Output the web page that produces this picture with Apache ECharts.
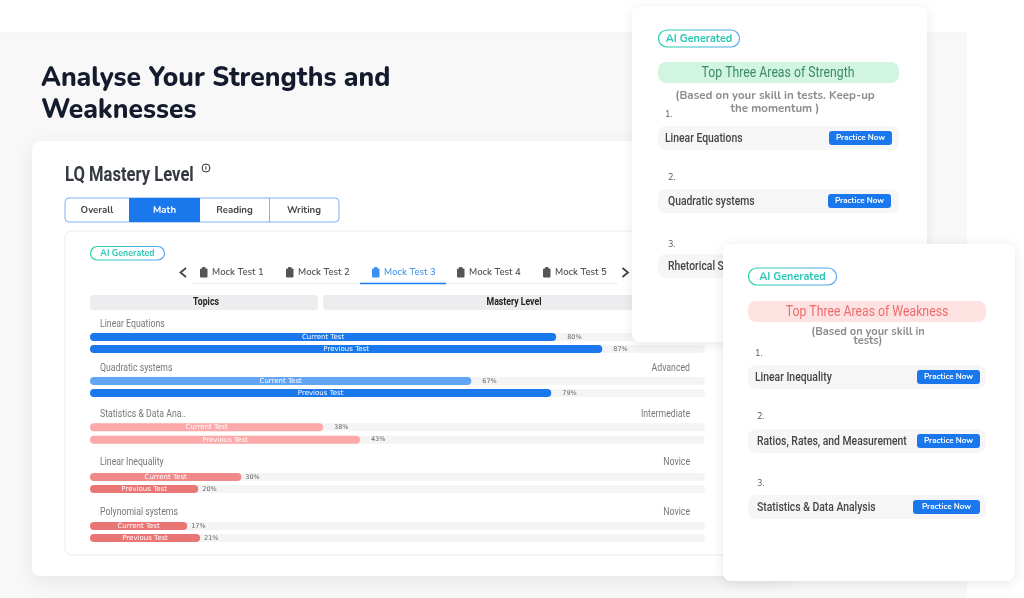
<!DOCTYPE html>
<html><head><meta charset="utf-8">
<style>html,body{margin:0;padding:0;background:#fff}#c{width:1024px;height:598px}</style>
<script src="https://cdn.jsdelivr.net/npm/echarts@6/dist/echarts.min.js"></script>
</head><body><div id="c"></div>
<script>
const topics = ['Linear Equations','Quadratic systems','Statistics & Data Ana..','Linear Inequality','Polynomial systems'];
const levels = ['', 'Advanced','Intermediate','Novice','Novice'];
const testNames = ['Current Test','Previous Test'];
// share of the track each bar fills
const currentFill  = [75.8, 62.0, 37.9, 24.6, 15.8];
const previousFill = [83.3, 75.0, 43.9, 17.6, 17.9];
// percentages printed beside the bars
const currentLabel  = ['80%','67%','38%','30%','17%'];
const previousLabel = ['87%','79%','43%','20%','21%'];
const currentColor  = ['#1a78ec','#62a5f5','#fda9a9','#f08a8a','#ea7575'];
const previousColor = ['#1a78ec','#1a78ec','#fda9a9','#ea7575','#ea7575'];
const mockTests = ['Mock Test 1','Mock Test 2','Mock Test 3','Mock Test 4','Mock Test 5'];
const subjects = ['Overall','Math','Reading','Writing'];
const strengths = ['Linear Equations','Quadratic systems','Rhetorical Skills'];
const weaknesses = ['Linear Inequality','Ratios, Rates, and Measurement','Statistics & Data Analysis'];

const groupTops = [331,375,421,471,520];
const groupHeights = [24,24,25,24,24];
const topicY = [322.5,366.5,412.5,460.5,510.5];
const SANS='Nunito, "Open Sans", sans-serif', NARROW='Roboto, sans-serif';

const g = [];
const rect=(x,y,w,h,o={})=>g.push({type:'rect',z:o.z??0,silent:true,shape:{x,y,width:w,height:h,r:o.r||0},
  style:{fill:o.fill||'#fff',stroke:o.stroke,lineWidth:o.lw||0,shadowBlur:o.blur||0,shadowColor:o.sc,shadowOffsetY:o.sy||0}});
const text=(s,x,y,o={})=>{const fam=o.family||SANS;const sx=o.sx??(fam===NARROW?0.83:0.96);
  g.push({type:'text',z:o.z??1,silent:true,x,y:y+2,scaleX:sx,style:{text:s,fill:o.fill||'#333',
  font:`${o.weight||400} ${o.size||12}px ${fam}`,align:o.align||'left',verticalAlign:'middle'}});};
const poly=(pts,o={})=>g.push({type:'polyline',z:o.z??1,silent:true,shape:{points:pts},style:{stroke:o.stroke||'#444',lineWidth:o.lw||2,fill:null}});
const grad=new echarts.graphic.LinearGradient(0,0,1,0,[{offset:0,color:'#22d3a6'},{offset:1,color:'#5aa2f5'}]);
const pill=(x,y,w,h,size,z)=>{
  g.push({type:'rect',z,silent:true,shape:{x,y,width:w,height:h,r:h/2},style:{fill:'#fff',stroke:grad,lineWidth:1.2}});
  text('AI Generated',x+w/2,y+h/2-1,{size,z:z+1,weight:700,fill:'#2cc7b4',align:'center',sx:.98});
};
const clip=(x,y,col,z)=>{ // clipboard icon
  rect(x,y+1.5,7.5,9,{fill:col,r:1,z});rect(x+2,y,3.5,2.5,{fill:col,r:.8,z});
};

// page
rect(0,33,967,565,{fill:'#f8f8f9',z:-5});
g.push({type:'line',z:-4,silent:true,shape:{x1:0,y1:33,x2:967,y2:33},style:{stroke:'#f0f0f1',lineWidth:1}});
text('Analyse Your Strengths and',41,77,{size:27.5,weight:800,fill:'#141b2d',z:-4,sx:.96});
text('Weaknesses',41,109,{size:27.5,weight:800,fill:'#141b2d',z:-4,sx:.96});

// main card
rect(32,141,760,435,{r:8,blur:20,sc:'rgba(0,0,0,.08)',sy:5,z:-3});
text('LQ Mastery Level',65,174,{size:20,weight:700,family:NARROW,fill:'#343841'});
g.push({type:'circle',z:1,silent:true,shape:{cx:206,cy:168,r:4},style:{fill:'none',stroke:'#333',lineWidth:1}});
text('i',206,166,{size:7,weight:700,align:'center',fill:'#333',sx:1});

// subject tabs
const tabX=[65,129,200,269,339];
rect(65,198,274,24,{r:4,stroke:'#7db3f3',lw:1,z:0});
rect(129,198,71,24,{fill:'#1a78ec',z:1});
g.push({type:'line',z:1,silent:true,shape:{x1:269.5,y1:198,x2:269.5,y2:222},style:{stroke:'#7db3f3',lineWidth:1}});
subjects.forEach((s,i)=>text(s,(tabX[i]+tabX[i+1])/2,208.5,{size:10,weight:700,align:'center',z:2,fill:i==1?'#fff':'#444'}));

// inner panel
rect(65,231,760,324,{r:7,stroke:'#ececee',lw:1,z:0});
pill(90.5,246.5,74,13.5,9,1);
// mock tabs
poly([[186,268],[180.5,272.5],[186,277]],{lw:1.8,stroke:'#444'});
poly([[622.5,268],[628,272.5],[622.5,277]],{lw:1.8,stroke:'#444'});
g.push({type:'line',z:0,silent:true,shape:{x1:193,y1:283.5,x2:618,y2:283.5},style:{stroke:'#ececee',lineWidth:1}});
g.push({type:'line',z:1,silent:true,shape:{x1:360,y1:283.5,x2:446,y2:283.5},style:{stroke:'#1a78ec',lineWidth:1.5}});
const mockX=[212,298,384,469,555];
mockTests.forEach((s,i)=>{const c=i==2?'#4f9bf2':'#555';clip(mockX[i]-12,267,i==2?'#3d8ff0':'#555',1);text(s,mockX[i],270.5,{size:10,weight:600,fill:c,sx:.95});});
// header cells
rect(90,295,228,15,{fill:'#ededf0',r:3});
rect(323,295,320,15,{fill:'#ededf0',r:3});
text('Topics',206,300.5,{size:10.5,weight:700,family:NARROW,align:'center',fill:'#222'});
text('Mastery Level',514,300.5,{size:10.5,weight:700,family:NARROW,align:'center',fill:'#222'});
topics.forEach((t,i)=>{
  text(t,100,topicY[i],{size:10.5,family:NARROW,fill:'#777'});
  if(levels[i])text(levels[i],690,topicY[i],{size:10.5,family:NARROW,fill:'#777',align:'right'});
});

// strength card
const Z=20;
rect(632,6,295,336,{r:8,blur:12,sc:'rgba(0,0,0,.09)',sy:2,z:Z});
pill(658.5,30,81,17,11,Z+1);
rect(658,62,241,21,{fill:'#d2f5e2',r:8,z:Z+1});
text('Top Three Areas of Strength',778,71,{size:14.5,family:NARROW,sx:.845,fill:'#3b8a67',align:'center',z:Z+2});
text('(Based on your skill in tests. Keep-up',775,94,{size:12,fill:'#8c8c8c',weight:700,align:'center',z:Z+2,sx:.96});
text('the momentum )',775,107,{size:12,fill:'#8c8c8c',weight:700,align:'center',z:Z+2,sx:.96});
const row=(n,name,nx,ny,x,y,w,tx,bx,bw,Zz)=>{
  text(n+'.',nx,ny,{size:9,z:Zz+1,fill:'#555',sx:1});
  rect(x,y,w,24,{fill:'#f6f6f7',r:8,z:Zz+1});
  text(name,tx,y+11,{size:12.5,weight:500,family:NARROW,fill:'#444',z:Zz+2});
  if(bw){rect(bx,y+5,bw,14,{fill:'#1a78ec',r:3,z:Zz+2});
  text('Practice Now',bx+bw/2,y+10,{size:8,weight:700,fill:'#fff',align:'center',z:Zz+3,sx:1});}
};
row(1,strengths[0],665,113,658,126,241,665,829,63,Z);
row(2,strengths[1],668,176,658,189,241,668,828,63,Z);
row(3,strengths[2],668,243,658,254,241,668,0,0,Z);

// weakness card
const W=40;
rect(723,244,292,337,{r:8,blur:12,sc:'rgba(0,0,0,.10)',sy:2,z:W});
pill(748.5,268,88,17,11,W+1);
rect(748,301,238,21,{fill:'#fee2e2',r:8,z:W+1});
text('Top Three Areas of Weakness',867,310,{size:14.5,family:NARROW,sx:.845,fill:'#ef6b6b',align:'center',z:W+2});
text('(Based on your skill in',868,330,{size:11.5,fill:'#8c8c8c',weight:700,align:'center',z:W+2,sx:.96});
text('tests)',868,339,{size:11.5,fill:'#8c8c8c',weight:700,align:'center',z:W+2,sx:.96});
row(1,weaknesses[0],755,352,748,365,238,755,917,63,W);
row(2,weaknesses[1],757,415,748,429,238,757,917,63,W);
row(3,weaknesses[2],757,482,748,495,238,757,913,67,W);

const grids=topics.map((_,i)=>({left:90,width:615,top:groupTops[i],height:groupHeights[i]}));
const xAxes=topics.map((_,i)=>({type:'value',gridIndex:i,min:0,max:100,show:false}));
const yAxes=topics.map((_,i)=>({type:'category',gridIndex:i,inverse:true,data:testNames,show:false}));
const series=[];
topics.forEach((_,i)=>{
  const vals=[currentFill[i],previousFill[i]], cols=[currentColor[i],previousColor[i]], labs=[currentLabel[i],previousLabel[i]];
  series.push({type:'bar',xAxisIndex:i,yAxisIndex:i,barWidth:8,barGap:'-100%',z:2,silent:true,animation:false,
    showBackground:true,backgroundStyle:{color:'#f4f4f5',borderRadius:4},
    data:vals.map((v,k)=>({value:v,itemStyle:{color:cols[k],borderRadius:4},
      label:{show:true,position:'inside',formatter:testNames[k],color:'#fff',fontSize:7,fontFamily:'"DejaVu Sans"',fontWeight:400}}))});
  series.push({type:'bar',xAxisIndex:i,yAxisIndex:i,barWidth:8,barGap:'-100%',z:3,silent:true,animation:false,
    data:vals.map((v,k)=>({value:v,itemStyle:{color:'transparent'},
      label:{show:true,position:'right',distance:v>=30?11:4,formatter:labs[k],color:'#666',fontSize:6.5,fontFamily:'"DejaVu Sans"'}}))});
});
const chart=echarts.init(document.getElementById('c'),null,{renderer:'canvas'});
chart.setOption({animation:false,backgroundColor:'#fff',grid:grids,xAxis:xAxes,yAxis:yAxes,series,graphic:{elements:g}});
</script></body></html>
